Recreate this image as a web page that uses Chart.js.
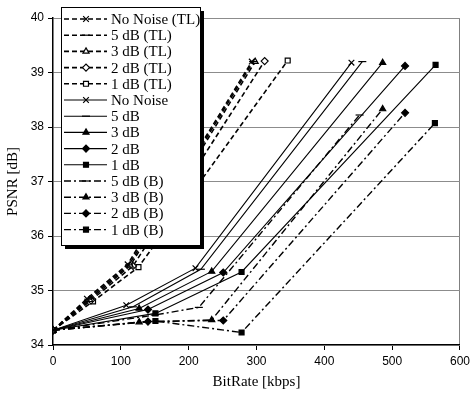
<!DOCTYPE html>
<html>
<head>
<meta charset="utf-8">
<script src="https://cdn.jsdelivr.net/npm/chart.js@4.4.0/dist/chart.umd.min.js"></script>
<style>
  html, body { margin: 0; padding: 0; background: #fff; }
</style>
</head>
<body>
<canvas id="psnrChart" width="474" height="395"></canvas>
<script>
// axis ranges
const bitrateTicks = [0, 100, 200, 300, 400, 500, 600];
const psnrTicks = [34, 35, 36, 37, 38, 39, 40];

// [bitrate kbps, PSNR dB]
const noNoiseTL = [[0, 34.27], [50, 34.85], [110, 35.48], [293, 39.2]];
const db5TL     = [[0, 34.27], [52, 34.84], [112, 35.47], [295, 39.2]];
const db3TL     = [[0, 34.27], [54, 34.83], [114, 35.46], [298, 39.2]];
const db2TL     = [[0, 34.27], [56, 34.82], [118, 35.45], [312, 39.21]];
const db1TL     = [[0, 34.27], [59, 34.8], [126, 35.43], [346, 39.22]];

const noNoise = [[0, 34.27], [108, 34.73], [210, 35.41], [440, 39.18]];
const db5     = [[0, 34.27], [118, 34.7], [218, 35.39], [456, 39.2]];
const db3     = [[0, 34.27], [127, 34.67], [234, 35.35], [486, 39.18]];
const db2     = [[0, 34.27], [140, 34.65], [251, 35.33], [519, 39.12]];
const db1     = [[0, 34.27], [151, 34.58], [278, 35.34], [564, 39.14]];

const db5B = [[0, 34.27], [150, 34.55], [215, 34.69], [452, 38.22]];
const db3B = [[0, 34.27], [127, 34.42], [234, 34.46], [486, 38.33]];
const db2B = [[0, 34.27], [140, 34.43], [251, 34.45], [519, 38.26]];
const db1B = [[0, 34.27], [151, 34.44], [278, 34.23], [563, 38.07]];

const TL_DASH = [5, 3];
const B_DASH = [7, 3, 2, 3];

Chart.defaults.font.family = '"Liberation Sans", Arial, sans-serif';

function makeSet(label, points, dash, marker, open, width) {
  return {
    label: label,
    data: points.map(p => ({ x: p[0], y: p[1] })),
    borderColor: '#000',
    borderWidth: width,
    borderDash: dash,
    pointStyle: marker,
    pointRadius: marker === 'line' || marker === 'crossRot' ? 4 : 3.5,
    pointBorderWidth: 1.2,
    pointBorderColor: '#000',
    pointBackgroundColor: open ? '#fff' : '#000',
    pointHoverRadius: 4,
    fill: false,
    tension: 0
  };
}

const datasets = [
  makeSet('No Noise (TL)', noNoiseTL, TL_DASH, 'crossRot', true, 1.6),
  makeSet('5 dB (TL)', db5TL, TL_DASH, 'line', true, 1.6),
  makeSet('3 dB (TL)', db3TL, TL_DASH, 'triangle', true, 1.6),
  makeSet('2 dB (TL)', db2TL, TL_DASH, 'rectRot', true, 1.6),
  makeSet('1 dB (TL)', db1TL, TL_DASH, 'rect', true, 1.6),
  makeSet('No Noise', noNoise, [], 'crossRot', false, 1.1),
  makeSet('5 dB', db5, [], 'line', false, 1.1),
  makeSet('3 dB', db3, [], 'triangle', false, 1.1),
  makeSet('2 dB', db2, [], 'rectRot', false, 1.1),
  makeSet('1 dB', db1, [], 'rect', false, 1.1),
  makeSet('5 dB (B)', db5B, B_DASH, 'line', false, 1.4),
  makeSet('3 dB (B)', db3B, B_DASH, 'triangle', false, 1.4),
  makeSet('2 dB (B)', db2B, B_DASH, 'rectRot', false, 1.4),
  makeSet('1 dB (B)', db1B, B_DASH, 'rect', false, 1.4)
];

// legend box with drop shadow, drawn over the lines like the original
const boxLegend = {
  id: 'boxLegend',
  afterDraw(chart) {
    const ctx = chart.ctx;
    const left = 61, top = 7, w = 139, h = 238;
    ctx.save();
    ctx.fillStyle = '#000';
    ctx.fillRect(left + 4, top + 4, w, h);
    ctx.fillStyle = '#fff';
    ctx.fillRect(left, top, w, h);
    ctx.strokeStyle = '#000';
    ctx.lineWidth = 1;
    ctx.strokeRect(left + 0.5, top + 0.5, w, h);

    ctx.font = '15px "Liberation Serif", "Times New Roman", serif';
    ctx.textBaseline = 'middle';
    chart.data.datasets.forEach((ds, i) => {
      const y = 19 + i * 16.2;
      ctx.strokeStyle = '#000';
      ctx.lineWidth = ds.borderWidth;
      ctx.setLineDash(ds.borderDash);
      ctx.beginPath();
      ctx.moveTo(64, y);
      ctx.lineTo(107, y);
      ctx.stroke();
      ctx.setLineDash([]);
      ctx.fillStyle = ds.pointBackgroundColor;
      ctx.lineWidth = ds.pointBorderWidth;
      Chart.helpers.drawPoint(ctx, {
        pointStyle: ds.pointStyle,
        radius: ds.pointRadius,
        rotation: 0,
        borderWidth: ds.pointBorderWidth
      }, 86, y);
      ctx.fillStyle = '#000';
      ctx.fillText(ds.label, 111, y + 1);
    });
    ctx.restore();
  }
};

const options = {
  responsive: false,
  animation: false,
  layout: { padding: { top: 18, right: 14, left: 0, bottom: 0 } },
  plugins: {
    legend: { display: false },
    tooltip: { enabled: false }
  },
  scales: {
    x: {
      type: 'linear',
      min: bitrateTicks[0],
      max: bitrateTicks[bitrateTicks.length - 1],
      afterFit: scale => { scale.height = 50; },
      ticks: {
        stepSize: 100,
        color: '#000',
        padding: 4,
        font: { family: '"Liberation Sans", Arial, sans-serif', size: 12 }
      },
      grid: {
        color: ctx => ctx.tick && ctx.tick.value === 600 ? '#808080' : 'rgba(0,0,0,0)',
        tickColor: '#000',
        tickLength: 5
      },
      border: { color: '#000', width: 1.2 },
      title: {
        display: true,
        text: 'BitRate [kbps]',
        color: '#000',
        padding: { top: 2, bottom: 4 },
        font: { family: '"Liberation Serif", "Times New Roman", serif', size: 15 }
      }
    },
    y: {
      type: 'linear',
      min: psnrTicks[0],
      max: psnrTicks[psnrTicks.length - 1],
      afterFit: scale => { scale.width = 53; },
      ticks: {
        stepSize: 1,
        color: '#000',
        padding: 4,
        font: { family: '"Liberation Sans", Arial, sans-serif', size: 12 }
      },
      grid: {
        color: '#8c8c8c',
        lineWidth: 1,
        tickColor: '#000',
        tickLength: 5
      },
      border: { color: '#000', width: 1.5 },
      title: {
        display: true,
        text: 'PSNR [dB]',
        color: '#000',
        padding: { top: 4, bottom: 2 },
        font: { family: '"Liberation Serif", "Times New Roman", serif', size: 15 }
      }
    }
  }
};

const chart = new Chart(document.getElementById('psnrChart'), {
  type: 'line',
  data: { datasets: datasets },
  options: options,
  plugins: [boxLegend]
});
</script>
</body>
</html>
